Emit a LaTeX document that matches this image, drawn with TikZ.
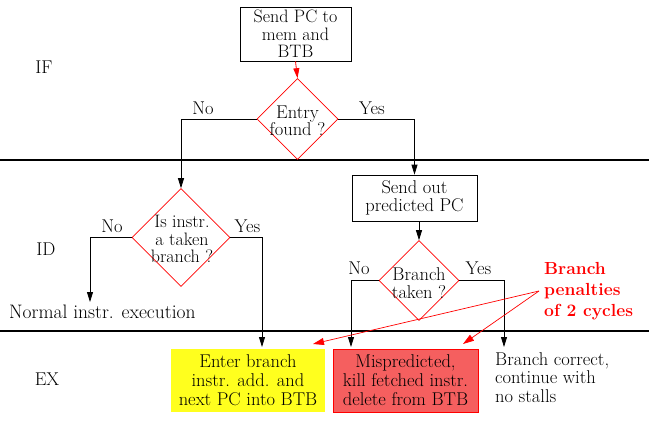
\documentclass[tikz,border=0pt]{standalone}
\usetikzlibrary{arrows.meta,shapes.geometric}
\definecolor{boxyellow}{RGB}{255,255,30}
\definecolor{boxred}{RGB}{245,95,95}
\begin{document}
\begin{tikzpicture}[x=1pt,y=-1pt,
  txt/.style={font=\fontsize{18.5}{18}\selectfont, inner sep=0pt, align=center},
  boxnode/.style={txt, draw, line width=0.8pt, rectangle},
  dia/.style={draw=red, line width=0.6pt, diamond, aspect=1, inner sep=0pt,
              minimum width=#1, minimum height=#1},
  flow/.style={line width=0.8pt, -{Triangle[length=10pt,width=6pt]}},
  redflow/.style={draw=red, line width=0.7pt, -{Triangle[length=11pt,width=7pt]}, red},
  stage/.style={font=\fontsize{18.5}{18}\selectfont, inner sep=0pt},
  sep/.style={line width=2pt}]
\useasboundingbox (0,0) rectangle (649,429);

% stage separators
\draw[sep] (0,159.5) -- (649,159.5);
\draw[sep] (0,331) -- (649,331);

% stage labels
\node[stage] (lif) at (44,67) {IF};
\node[stage] (lid) at (46,249) {ID};
\node[stage] (lex) at (47,379) {EX};

% IF stage
\node[boxnode, minimum width=111, minimum height=54, font=\fontsize{18}{17.5}\selectfont] (ifbox) at (295.5,34) {Send PC to\\mem and\\BTB};
\node[dia=81] (d1) at (297.5,119) {};
\node[txt, font=\fontsize{18.5}{17.5}\selectfont] (d1t) at (297.5,121) {Entry\\found ?};
\draw[flow, draw=red, red] (ifbox.south) -- (d1.north);

% ID stage
\node[dia=98] (d2) at (181,237.5) {};
\node[txt, font=\fontsize{18}{17.5}\selectfont] (d2t) at (182,239) {Is instr.\\a taken\\branch ?};
\node[boxnode, minimum width=125, minimum height=46, font=\fontsize{18.5}{18}\selectfont] (sendout) at (414.5,198) {Send out\\predicted PC};
\node[dia=80] (d3) at (419,280.5) {};
\node[txt, font=\fontsize{18.5}{17.5}\selectfont] (d3t) at (419,283) {Branch\\taken ?};

\node[txt, anchor=west, font=\fontsize{19.5}{19}\selectfont] (normal) at (9,312) {Normal instr. execution};

% EX stage
\node[txt, fill=boxyellow, minimum width=154, minimum height=63, font=\fontsize{18.5}{19}\selectfont] (enter) at (248,380.5) {Enter branch\\instr. add. and\\next PC into BTB};
\node[txt, fill=boxred, draw=red, line width=0.8pt, minimum width=145, minimum height=63, font=\fontsize{18.5}{19}\selectfont] (mispred) at (405.5,380.5) {Mispredicted,\\kill fetched instr.\\delete from BTB};
\node[txt, align=left, anchor=north west, font=\fontsize{18.5}{18.5}\selectfont] (correct) at (495,352) {Branch correct,\\continue with\\no stalls};

\node[txt, align=left, anchor=west, red, font=\fontsize{17.5}{21}\selectfont\bfseries] (penalty) at (544,291) {Branch\\penalties\\of 2 cycles};

% yes/no labels
\node[txt] (d1no) at (203,108) {No};
\node[txt] (d1yes) at (372,108) {Yes};
\node[txt] (d2no) at (112,226) {No};
\node[txt] (d2yes) at (247.5,226) {Yes};
\node[txt] (d3no) at (359,268) {No};
\node[txt] (d3yes) at (478.5,268) {Yes};

% connector end points
\coordinate (normalEnd) at (90,302);
\coordinate (enterEnd) at (262,347);
\coordinate (misEnd) at (351,347);
\coordinate (corrEnd) at (504,347);
\coordinate (pen) at (539,291);
\coordinate (penA) at (313,344);
\coordinate (penB) at (463,344);

% connectors
\draw[flow] (d1.west) -| (d2.north);
\draw[flow] (d1.east) -| (sendout.north);
\draw[flow] (sendout.south -| d3.north) -- (d3.north);
\draw[flow] (d2.west) -| (normalEnd);
\draw[flow] (d2.east) -| (enterEnd);
\draw[flow] (d3.west) -| (misEnd);
\draw[flow] (d3.east) -| (corrEnd);
\draw[redflow] (pen) -- (penA);
\draw[redflow] (pen) -- (penB);
\end{tikzpicture}
\end{document}
